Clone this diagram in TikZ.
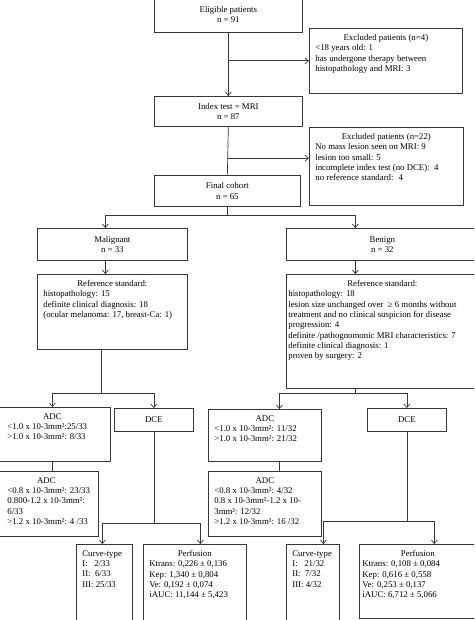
\documentclass[tikz,border=0pt]{standalone}
\usepackage{fontspec}
\setmainfont{Liberation Serif}
\usetikzlibrary{arrows.meta, positioning, calc}
\definecolor{BoxLine}{RGB}{55, 55, 55}

\tikzset{
  flowbox/.style={draw=BoxLine, line width=0.7pt, inner xsep=6pt, inner ysep=6pt,
    anchor=north west, font=\fontsize{8.8}{10.3}\selectfont},
  centerbox/.style={draw=BoxLine, line width=0.7pt, inner sep=0pt, align=center,
    anchor=north west, font=\fontsize{8.8}{10.3}\selectfont},
  link/.style={draw=BoxLine, line width=0.7pt},
  arr/.style={link, -{Straight Barb[length=3.5pt,width=6pt]}}
}
\newcommand{\boxtext}[3]{\parbox[t][#2][t]{#1}{\raggedright #3}}

\begin{document}
\begin{tikzpicture}[x=1pt, y=-1pt]
    \useasboundingbox (0,0) rectangle (474,620);
    \fill[white] (0,0) rectangle (474,620);
    \clip (0,0) rectangle (474,620);

    % Top of the flow
    \node[centerbox, minimum width=148pt, minimum height=36pt] (elig) at (154,-4) {Eligible patients\\n = 91};
    \node[flowbox] (excl1) at (309,28) {\boxtext{141pt}{53pt}{\centerline{Excluded patients (n=4)}<18 years old: 1\\has undergone therapy between\\histopathology and MRI: 3}};
    \node[centerbox, minimum width=148pt, minimum height=30pt] (index) at (154,96) {Index test = MRI\\n = 87};
    \node[flowbox] (excl2) at (309,127) {\boxtext{142pt}{66pt}{\centerline{Excluded patients (n=22)}No mass lesion seen on MRI: 9\\lesion too small: 5\\incomplete index test (no DCE):~ 4\\no reference standard:~ 4}};
    \node[centerbox, minimum width=146pt, minimum height=31pt] (final) at (154,175) {Final cohort\\n = 65};

    % Malignant / benign
    \node[centerbox, minimum width=150pt, minimum height=32pt] (mal) at (37,228) {Malignant\\n = 33};
    \node[centerbox, minimum width=192pt, minimum height=32pt] (ben) at (286,228) {Benign\\n = 32};
    \node[flowbox] (malref) at (37,274) {\boxtext{138pt}{63pt}{\centerline{Reference standard:}histopathology: 15\\definite clinical diagnosis: 18\\(ocular melanoma: 17, breast-Ca: 1)}};
    \node[flowbox, inner xsep=2pt] (benref) at (286,274) {\boxtext{188pt}{102pt}{\centerline{Reference standard:}histopathology: 18\\lesion size unchanged over~ ≥ 6 months without\\treatment and no clinical suspicion for disease\\progression: 4\\definite /pathognomonic MRI characteristics: 7\\definite clinical diagnosis: 1\\proven by surgery: 2}};

    % ADC and DCE
    \node[flowbox] (adcm1) at (-6,407) {\boxtext{104pt}{42pt}{\leftskip=7pt\centerline{ADC}<1.0 x 10-3mm²:25/33\\>1.0 x 10-3mm²: 8/33}};
    \node[centerbox, minimum width=79pt, minimum height=23pt] (dcem) at (114,408) {DCE};
    \node[flowbox] (adcm2) at (-6,471) {\boxtext{92pt}{53pt}{\leftskip=7pt\centerline{ADC}<0.8 x 10-3mm²: 23/33\\0.800-1.2 x 10-3mm²:\\6/33\\>1.2 x 10-3mm²: 4 /33}};
    \node[flowbox] (adcb1) at (208,409) {\boxtext{101pt}{40pt}{\centerline{ADC}<1.0 x 10-3mm²: 11/32\\>1.0 x 10-3mm²: 21/32}};
    \node[centerbox, minimum width=79pt, minimum height=23pt] (dceb) at (367,408) {DCE};
    \node[flowbox] (adcb2) at (208,471) {\boxtext{101pt}{53pt}{\centerline{ADC}<0.8 x 10-3mm²: 4/32\\0.8 x 10-3mm²-1.2 x 10-\\3mm²: 12/32\\>1.2 x 10-3mm²: 16 /32}};

    % Curve-type and perfusion
    \node[flowbox] (curm) at (76,544) {\boxtext{44pt}{78pt}{Curve-type\\I:~~~2/33\\II:~~6/33\\III: 25/33}};
    \node[flowbox] (perfm) at (143,544) {\boxtext{91pt}{78pt}{\centerline{Perfusion}Ktrans: 0,226 ± 0,136\\Kep: 1,340 ± 0,804\\Ve: 0,192 ± 0,074\\iAUC: 11,144 ± 5,423}};
    \node[flowbox] (curb) at (286,544) {\boxtext{41pt}{78pt}{Curve-type\\I:~~~21/32\\II:~~7/32\\III: 4/32}};
    \node[flowbox, inner xsep=3pt] (perfb) at (359,544) {\boxtext{111pt}{62pt}{\centerline{Perfusion}Ktrans: 0,108 ± 0,084\\Kep: 0,616 ± 0,558\\Ve: 0,253 ± 0,137\\iAUC: 6,712 ± 5,066}};

    % Connectors
    \draw[arr] (elig.south) -- (index.north);
    \draw[arr] (elig.south |- excl1.west) -- (excl1.west);
    \draw[link] (index.south) -- (final.north);
    \draw[arr] ($(index.south)!0.65!(final.north)$) coordinate (extwo) -- (extwo -| excl2.west);
    \draw[link] (final.south) -- ++(0,9) coordinate (cohortsplit);
    \draw[arr] (cohortsplit) -| ([xshift=-7pt]mal.north);
    \draw[arr] (cohortsplit) -| ([xshift=-27pt]ben.north);
    \draw[arr] ([xshift=-7pt]mal.south) -- ([xshift=-7pt]malref.north);
    \draw[arr] ([xshift=-27pt]ben.south) -- ([xshift=-27pt]benref.north);

    \draw[link] ([xshift=-11pt]malref.south) -- ++(0,44) coordinate (malsplit);
    \draw[arr] (malsplit) -| (adcm1.north);
    \draw[arr] (malsplit) -| (dcem.north);
    \draw[link] ([xshift=-27pt]benref.south) -- ++(0,5) coordinate (bensplit);
    \draw[arr] (bensplit) -| ([xshift=14.5pt]adcb1.north);
    \draw[arr] (bensplit) -| (dceb.north);
    \draw[link] (adcm1.south) -- (adcm1.south |- adcm2.north);
    \draw[link] ([xshift=14.5pt]adcb1.south) -- ([xshift=14.5pt]adcb1.south |- adcb2.north);

    \draw[link] (dcem.south) -- ++(0,92) coordinate (dcemsplit);
    \draw[arr] (dcemsplit) -| ([xshift=-2pt]curm.north);
    \draw[arr] (dcemsplit) -| ([xshift=5.5pt]perfm.north);
    \draw[link] (dceb.south) -- ++(0,90) coordinate (dcebsplit);
    \draw[arr] (dcebsplit) -| ([xshift=10.5pt]curb.north);
    \draw[arr] (dcebsplit) -| ([xshift=16.5pt]perfb.north);
  \end{tikzpicture}
\end{document}
